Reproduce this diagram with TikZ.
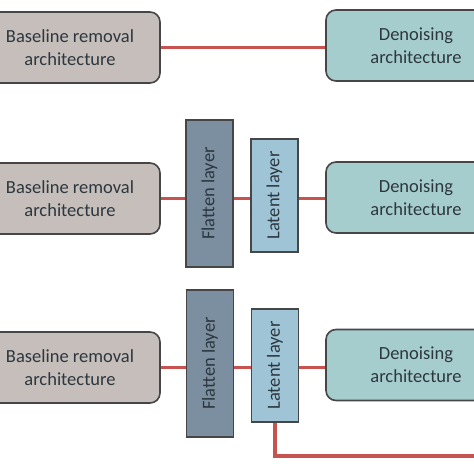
\documentclass[tikz,border=0pt]{standalone}
\usepackage{fontspec}
\setmainfont{Carlito}
\usepackage{xcolor}
\usepackage{tikz}
\usetikzlibrary{calc}

\definecolor{basefill}{RGB}{197,190,186}
\definecolor{denfill}{RGB}{166,205,206}
\definecolor{flatfill}{RGB}{124,143,161}
\definecolor{latfill}{RGB}{158,196,214}
\definecolor{edge}{RGB}{70,70,70}
\definecolor{link}{RGB}{200,82,80}
\definecolor{ink}{RGB}{45,55,62}

\begin{document}
\begin{tikzpicture}[
  x=1pt, y=-1pt,
  archbox/.style={rectangle, draw=edge, line width=1.6pt, rounded corners=10pt, minimum width=180pt, minimum height=71pt, align=center, text=ink},
  layerbox/.style={rectangle, draw=edge, line width=1.2pt, minimum width=47pt, rotate=90, text=ink, inner sep=0pt},
  link/.style={draw=link, line width=3.5pt},
  every node/.style={font=\fontsize{18.5}{23}\selectfont}
]
\clip (0,0) rectangle (474,474);

% first row
\node[archbox, fill=basefill] (base1) at (70, 47.5) {Baseline removal\\architecture};
\node[archbox, fill=denfill] (den1) at (416, 45.5) {Denoising\\architecture};

% second row
\node[archbox, fill=basefill] (base2) at (70, 198.5) {Baseline removal\\architecture};
\node[layerbox, fill=flatfill, minimum width=147pt, minimum height=47pt] (flat2) at (209.5, 193.5) {Flatten layer};
\node[layerbox, fill=latfill, minimum width=113pt, minimum height=47pt] (lat2) at (274.5, 195.5) {Latent layer};
\node[archbox, fill=denfill] (den2) at (416, 197.5) {Denoising\\architecture};

% third row
\node[archbox, fill=basefill] (base3) at (70, 367.5) {Baseline removal\\architecture};
\node[layerbox, fill=flatfill, minimum width=147pt, minimum height=47pt] (flat3) at (210, 363.5) {Flatten layer};
\node[layerbox, fill=latfill, minimum width=113pt, minimum height=47pt] (lat3) at (275, 365.5) {Latent layer};
\node[archbox, fill=denfill] (den3) at (416, 365) {Denoising\\architecture};
\coordinate (out3) at (480, 456);

% links
\draw[link] (base1.east) -- (base1.east -| den1.west);
\draw[link] (base2.east) -- (base2.east -| flat2.north);
\draw[link] (base2.east -| flat2.south) -- (base2.east -| lat2.north);
\draw[link] (base2.east -| lat2.south) -- (base2.east -| den2.west);
\draw[link] (base3.east) -- (base3.east -| flat3.north);
\draw[link] (base3.east -| flat3.south) -- (base3.east -| lat3.north);
\draw[link] (base3.east -| lat3.south) -- (base3.east -| den3.west);
\draw[link] (lat3.west) |- (out3);

\end{tikzpicture}
\end{document}
